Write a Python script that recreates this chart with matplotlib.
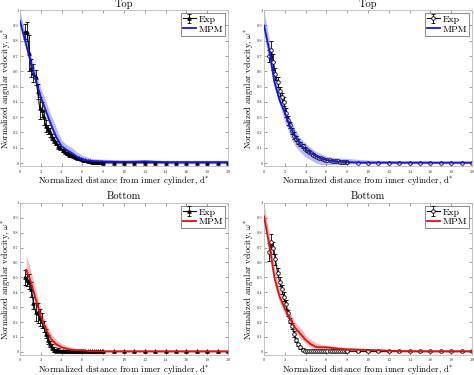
import numpy as np
import matplotlib
matplotlib.use("Agg")
from matplotlib import pyplot as plt

plt.rcParams["font.family"] = ["cmr10", "DejaVu Serif"]
plt.rcParams["mathtext.fontset"] = "cm"
plt.rcParams["axes.formatter.use_mathtext"] = True

# experimental sample positions (dense near the cylinder, then every unit)
exp_x = [0.5, 0.7, 0.9, 1.1, 1.3, 1.5, 1.7, 1.9, 2.1, 2.3, 2.5, 2.7, 2.9,
         3.1, 3.3, 3.5, 3.7, 3.9, 4.1, 4.3, 4.5, 4.7, 4.9, 5.1, 5.3, 5.5,
         5.7, 5.9, 6.1, 6.3, 6.5, 6.7, 6.9, 7.1, 7.3, 7.5, 7.7, 7.9,
         8, 9, 10, 11, 12, 13, 14, 15, 16, 17, 18, 19, 20]

tl_exp = [0.86, 0.86, 0.72, 0.62, 0.59, 0.56, 0.47, 0.36, 0.35, 0.30, 0.24,
          0.22, 0.20, 0.17, 0.15, 0.13, 0.11, 0.10, 0.085, 0.075, 0.065,
          0.055, 0.05, 0.045, 0.04, 0.035, 0.03, 0.025, 0.02, 0.017, 0.014,
          0.012, 0.01, 0.008, 0.007, 0.006, 0.005, 0.004,
          0.003, 0.002, 0.002, 0.002, 0.002, 0.002, 0.002, 0.002, 0.002,
          0.002, 0.002, 0.002, 0.002]
tl_err = [0.05, 0.06, 0.12, 0.06, 0.06, 0.05, 0.05, 0.07, 0.05, 0.05, 0.04,
          0.03, 0.03, 0.02, 0.02, 0.015, 0.015, 0.01, 0.01, 0.01, 0.01,
          0.008, 0.008, 0.008, 0.008, 0.006, 0.006, 0.006, 0.005, 0.005,
          0.005, 0.005, 0.004, 0.004, 0.004, 0.004, 0.004, 0.004,
          0.003, 0.003, 0.003, 0.003, 0.003, 0.003, 0.003, 0.003, 0.003,
          0.003, 0.003, 0.003, 0.003]

tr_exp = [0.70, 0.74, 0.66, 0.58, 0.53, 0.47, 0.43, 0.40, 0.33, 0.28, 0.25,
          0.21, 0.18, 0.16, 0.14, 0.125, 0.11, 0.095, 0.085, 0.075, 0.065,
          0.055, 0.048, 0.042, 0.036, 0.031, 0.027, 0.023, 0.02, 0.017,
          0.015, 0.013, 0.012, 0.011, 0.01, 0.009, 0.008, 0.008,
          0.004, 0.003, 0.003, 0.003, 0.003, 0.003, 0.003, 0.003, 0.003,
          0.003, 0.003, 0.003, 0.003]
tr_err = [0.04, 0.06, 0.05, 0.04, 0.03, 0.03, 0.03, 0.03, 0.03, 0.03, 0.02,
          0.02, 0.02, 0.015, 0.015, 0.012, 0.012, 0.01, 0.01, 0.01, 0.008,
          0.008, 0.008, 0.006, 0.006, 0.006, 0.005, 0.005, 0.005, 0.004,
          0.004, 0.004, 0.004, 0.004, 0.003, 0.003, 0.003, 0.003,
          0.003, 0.003, 0.003, 0.003, 0.003, 0.003, 0.003, 0.003, 0.003,
          0.003, 0.003, 0.003, 0.003]

bl_exp = [0.50, 0.48, 0.47, 0.42, 0.33, 0.27, 0.26, 0.23, 0.21, 0.17, 0.12,
          0.08, 0.05, 0.03, 0.015, 0.008, 0.012, 0.005, 0.004, 0.004, 0.003,
          0.004, 0.003, 0.003, 0.003, 0.004, 0.003, 0.003, 0.003, 0.003,
          0.003, 0.003, 0.003, 0.003, 0.003, 0.003, 0.003, 0.003,
          0.002, 0.002, 0.002, 0.002, 0.002, 0.002, 0.002, 0.002, 0.002,
          0.002, 0.002, 0.002, 0.002]
bl_err = [0.05, 0.04, 0.05, 0.05, 0.04, 0.06, 0.07, 0.06, 0.05, 0.04, 0.03,
          0.03, 0.02, 0.02, 0.015, 0.01, 0.01, 0.008, 0.006, 0.005, 0.005,
          0.005, 0.004, 0.004, 0.004, 0.004, 0.004, 0.004, 0.004, 0.004,
          0.004, 0.004, 0.004, 0.004, 0.004, 0.004, 0.004, 0.004,
          0.003, 0.003, 0.003, 0.003, 0.003, 0.003, 0.003, 0.003, 0.003,
          0.003, 0.003, 0.003, 0.003]

br_exp = [0.67, 0.74, 0.70, 0.62, 0.53, 0.47, 0.42, 0.37, 0.32, 0.26, 0.21,
          0.17, 0.12, 0.08, 0.05, 0.03, 0.015, 0.008, 0.006, 0.005, 0.005,
          0.005, 0.005, 0.005, 0.005, 0.005, 0.005, 0.005, 0.005, 0.005,
          0.005, 0.005, 0.005, 0.005, 0.005, 0.005, 0.005, 0.005,
          0.004, 0.003, 0.003, 0.003, 0.003, 0.003, 0.003, 0.003, 0.003,
          0.003, 0.003, 0.003, 0.003]
br_err = [0.06, 0.05, 0.04, 0.04, 0.03, 0.03, 0.03, 0.03, 0.03, 0.02, 0.02,
          0.02, 0.02, 0.015, 0.012, 0.01, 0.008, 0.006, 0.005, 0.005, 0.004,
          0.004, 0.004, 0.004, 0.004, 0.004, 0.004, 0.004, 0.004, 0.004,
          0.004, 0.004, 0.004, 0.004, 0.004, 0.004, 0.004, 0.004,
          0.003, 0.003, 0.003, 0.003, 0.003, 0.003, 0.003, 0.003, 0.003,
          0.003, 0.003, 0.003, 0.003]

# MPM simulation curves and their spread
mpm_x = [0, 0.5, 1, 1.5, 2, 2.5, 3, 3.5, 4, 4.5, 5, 5.5, 6, 7, 8, 9, 10,
         11, 12, 13, 14, 15, 16, 17, 18, 19, 20]

tl_mpm = [0.93, 0.80, 0.67, 0.55, 0.43, 0.34, 0.25, 0.17, 0.11, 0.085,
          0.065, 0.04, 0.022, 0.013, 0.01, 0.009, 0.008, 0.009, 0.011,
          0.008, 0.006, 0.006, 0.006, 0.006, 0.006, 0.006, 0.006]
tl_lo = [0.90, 0.77, 0.64, 0.53, 0.41, 0.31, 0.22, 0.14, 0.09, 0.07, 0.05,
         0.025, 0.01, 0.0, -0.005, -0.005, -0.005, -0.004, -0.003, -0.004,
         -0.005, -0.005, -0.005, -0.005, -0.005, -0.005, -0.005]
tl_hi = [1.0, 0.85, 0.72, 0.60, 0.49, 0.40, 0.31, 0.23, 0.15, 0.12, 0.10,
         0.07, 0.05, 0.03, 0.025, 0.022, 0.02, 0.02, 0.022, 0.02, 0.018,
         0.018, 0.018, 0.018, 0.018, 0.018, 0.018]

tr_mpm = [0.90, 0.74, 0.53, 0.41, 0.33, 0.24, 0.17, 0.12, 0.09, 0.065,
          0.045, 0.03, 0.02, 0.01, 0.006, 0.004, 0.003, 0.003, 0.003, 0.003,
          0.003, 0.003, 0.003, 0.003, 0.003, 0.003, 0.003]
tr_lo = [0.85, 0.66, 0.49, 0.38, 0.27, 0.18, 0.11, 0.07, 0.04, 0.02, 0.0,
         -0.01, -0.01, -0.01, -0.005, -0.005, -0.005, -0.005, -0.005,
         -0.005, -0.005, -0.005, -0.005, -0.005, -0.005, -0.005, -0.005]
tr_hi = [1.0, 0.80, 0.57, 0.45, 0.37, 0.29, 0.22, 0.16, 0.13, 0.10, 0.075,
         0.06, 0.045, 0.035, 0.03, 0.025, 0.02, 0.018, 0.016, 0.015, 0.014,
         0.013, 0.012, 0.012, 0.012, 0.012, 0.012]

bl_mpm_x = [0.6, 1.0, 1.5, 2.0, 2.5, 3.0, 3.5, 4.0, 4.5, 5.0, 5.5, 6.0, 6.5,
            7, 8, 9, 10, 11, 12, 13, 14, 15, 16, 17, 18, 19, 20]
bl_mpm = [0.55, 0.48, 0.36, 0.24, 0.15, 0.085, 0.05, 0.03, 0.02, 0.013,
          0.01, 0.012, 0.005, 0.003, 0.003, 0.003, 0.003, 0.003, 0.003,
          0.003, 0.003, 0.003, 0.003, 0.003, 0.003, 0.003, 0.003]
bl_lo = [0.47, 0.42, 0.31, 0.20, 0.11, 0.055, 0.025, 0.01, 0.005, 0.0,
         -0.002, 0.0, -0.004, -0.005, -0.005, -0.005, -0.005, -0.005,
         -0.005, -0.005, -0.005, -0.005, -0.005, -0.005, -0.005, -0.005,
         -0.005]
bl_hi = [0.65, 0.56, 0.42, 0.29, 0.19, 0.12, 0.08, 0.055, 0.04, 0.03,
         0.022, 0.02, 0.015, 0.012, 0.01, 0.008, 0.008, 0.008, 0.008, 0.008,
         0.008, 0.008, 0.008, 0.008, 0.008, 0.008, 0.008]

br_mpm = [0.91, 0.72, 0.50, 0.37, 0.29, 0.22, 0.16, 0.12, 0.08, 0.05,
          0.032, 0.03, 0.03, 0.022, 0.016, 0.014, 0.012, 0.01, 0.007, 0.005,
          0.004, 0.003, 0.003, 0.003, 0.003, 0.003, 0.003]
br_lo = [0.86, 0.66, 0.45, 0.33, 0.25, 0.18, 0.13, 0.09, 0.055, 0.025,
         0.01, 0.008, 0.008, 0.005, 0.0, -0.002, -0.003, -0.004, -0.005,
         -0.005, -0.005, -0.005, -0.005, -0.005, -0.005, -0.005, -0.005]
br_hi = [1.0, 0.78, 0.56, 0.42, 0.33, 0.26, 0.20, 0.16, 0.11, 0.08, 0.06,
         0.05, 0.045, 0.035, 0.03, 0.025, 0.022, 0.018, 0.015, 0.012, 0.01,
         0.01, 0.01, 0.01, 0.01, 0.01, 0.01]

BLUE = "#1414e6"
BLUE_BAND = "#8c8cff"
RED = "#e01010"
RED_BAND = "#f59090"

fig = plt.figure(figsize=(4.74, 3.75), dpi=100)

panels = [
    # rect, title, exp, err, marker, mpm_x, mpm, lo, hi, color, band, ylab x
    ([0.042, 0.557, 0.439, 0.416], "Top", tl_exp, tl_err, "^",
     mpm_x, tl_mpm, tl_lo, tl_hi, BLUE, BLUE_BAND, -0.036),
    ([0.557, 0.557, 0.439, 0.416], "Top", tr_exp, tr_err, "o",
     mpm_x, tr_mpm, tr_lo, tr_hi, BLUE, BLUE_BAND, -0.045),
    ([0.042, 0.054, 0.439, 0.405], "Bottom", bl_exp, bl_err, "^",
     bl_mpm_x, bl_mpm, bl_lo, bl_hi, RED, RED_BAND, -0.036),
    ([0.557, 0.054, 0.439, 0.405], "Bottom", br_exp, br_err, "o",
     mpm_x, br_mpm, br_lo, br_hi, RED, RED_BAND, -0.045),
]

for rect, title, ye, err, mk, mx, my, lo, hi, col, band, ylx in panels:
    ax = fig.add_axes(rect)
    ax.fill_between(mx, lo, hi, color=band, alpha=0.6, lw=0, zorder=1)
    face = "black" if mk == "^" else "white"
    eb = ax.errorbar(exp_x, ye, yerr=err, color="black", marker=mk, ms=2.6,
                     mfc=face, mec="black", mew=0.6, lw=0.8, elinewidth=0.6,
                     capsize=1.3, capthick=0.6, zorder=2)
    ln, = ax.plot(mx, my, color=col, lw=1.3, zorder=3)

    ax.set_xlim(0, 20)
    ax.set_ylim(-0.02, 1)
    ax.set_xticks(range(0, 21, 2))
    ax.set_yticks([0, 0.1, 0.2, 0.3, 0.4, 0.5, 0.6, 0.7, 0.8, 0.9, 1])
    ax.set_yticklabels(["0", "0.1", "0.2", "0.3", "0.4", "0.5", "0.6",
                        "0.7", "0.8", "0.9", "1"])
    ax.tick_params(direction="in", length=2, width=0.4, labelsize=3.2,
                   pad=1.0, top=True, right=True, colors="#555555",
                   labelcolor="#333333")
    for s in ax.spines.values():
        s.set_color("#bbbbbb")
        s.set_linewidth(0.6)
    ax.set_title(title, fontsize=7.5, pad=2.5)
    ax.set_xlabel("Normalized distance from inner cylinder, d$^{*}$",
                  fontsize=6.4, labelpad=-0.3)
    ax.set_ylabel("Normalized angular velocity, $\\omega^{*}$",
                  fontsize=6.2, labelpad=0)
    ax.yaxis.set_label_coords(ylx, 0.5)
    leg = ax.legend([eb, ln], ["Exp", "MPM"], loc="upper right", fontsize=7,
                    frameon=True, fancybox=False, borderpad=0.2,
                    handlelength=1.3, handletextpad=0.3, labelspacing=0.1,
                    borderaxespad=0.3)
    leg.get_frame().set_edgecolor("#555555")
    leg.get_frame().set_linewidth(0.6)

fig.savefig("out.png", dpi=100)
